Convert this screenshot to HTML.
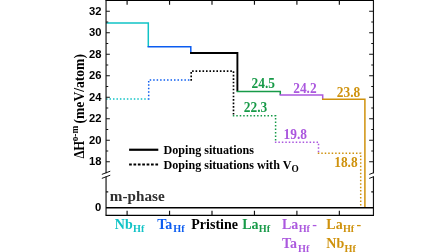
<!DOCTYPE html>
<html><head><meta charset="utf-8"><title>chart</title>
<style>html,body{margin:0;padding:0;background:#fff;overflow:hidden}</style></head>
<body>
<svg width="448" height="252" viewBox="0 0 448 252" style="display:block;filter:blur(0.3px)">
<rect width="448" height="252" fill="#fff"/>
<g fill="none" stroke-width="1.9" stroke-linejoin="miter" stroke-linecap="butt">
<path d="M106.05 22.97H148.30V46.76" stroke="#10c3c6" stroke-width="1.5"/>
<path d="M147.55 46.76H190.80V52.93" stroke="#0b5cf0" stroke-width="1.5"/>
<path d="M190.05 52.93H237.40V91.45" stroke="#000" stroke-width="1.9"/>
<path d="M236.65 91.45H280.30V94.96" stroke="#179a48" stroke-width="1.5"/>
<path d="M279.55 94.96H322.70V99.19" stroke="#ab58de" stroke-width="1.5"/>
<path d="M321.95 99.19H364.90V207.70" stroke="#cf920d" stroke-width="1.5"/>
</g>
<g fill="none" stroke-width="1.5" stroke-dasharray="1.5 1.97" stroke-linejoin="miter">
<path d="M106.05 99.04H148.0" stroke="#10c3c6"/>
<path d="M148.7 99.74V79.93H189.80" stroke="#0b5cf0"/>
<path d="M191.2 80.63V71.12H233.5V115.09" stroke="#000" stroke-width="1.65" stroke-dasharray="1.6 1.87"/>
<path d="M232.8 115.79H275.6V141.64" stroke="#179a48"/>
<path d="M274.90 142.34H318.5V152.49" stroke="#ab58de"/>
<path d="M317.8 153.19H360.7V207.70" stroke="#cf920d"/>
</g>
<g stroke="#111" stroke-width="1.15" fill="none" stroke-linecap="butt">
<path d="M105.5 0.35H374.0M105.5 215.3H374.0" stroke="#000" stroke-width="1.25"/>
<path d="M106.05 0.35V173.20M106.05 176.4V215.3M373.45 0.35V173.20M373.45 176.4V215.3"/>
<path d="M106.05 207.7H373.45" stroke="#000" stroke-width="1.45"/>
<path d="M101.85 174.40L110.25 171.20" stroke-width="1"/>
<path d="M369.25 174.40L373.95 172.61" stroke-width="1"/>
<path d="M101.85 178.40L110.25 175.20" stroke-width="1"/>
<path d="M369.25 178.40L373.95 176.61" stroke-width="1"/>
<path d="M127.10 0.35v4.4M127.10 215.3v-4.6"/>
<path d="M169.55 0.35v4.4M169.55 215.3v-4.6"/>
<path d="M212.00 0.35v4.4M212.00 215.3v-4.6"/>
<path d="M254.45 0.35v4.4M254.45 215.3v-4.6"/>
<path d="M296.90 0.35v4.4M296.90 215.3v-4.6"/>
<path d="M339.35 0.35v4.4M339.35 215.3v-4.6"/>
<path d="M106.05 161.75h3.8M373.45 161.75h-4.3"/>
<path d="M106.05 140.25h3.8M373.45 140.25h-4.3"/>
<path d="M106.05 118.75h3.8M373.45 118.75h-4.3"/>
<path d="M106.05 97.25h3.8M373.45 97.25h-4.3"/>
<path d="M106.05 75.75h3.8M373.45 75.75h-4.3"/>
<path d="M106.05 54.25h3.8M373.45 54.25h-4.3"/>
<path d="M106.05 32.75h3.8M373.45 32.75h-4.3"/>
<path d="M106.05 11.25h3.8M373.45 11.25h-4.3"/>
<path d="M106.05 151.00h2.2M373.45 151.00h-2.2"/>
<path d="M106.05 129.50h2.2M373.45 129.50h-2.2"/>
<path d="M106.05 108.00h2.2M373.45 108.00h-2.2"/>
<path d="M106.05 86.50h2.2M373.45 86.50h-2.2"/>
<path d="M106.05 65.00h2.2M373.45 65.00h-2.2"/>
<path d="M106.05 43.50h2.2M373.45 43.50h-2.2"/>
<path d="M106.05 22.00h2.2M373.45 22.00h-2.2"/>
<path d="M106.05 191.8h2.2M373.45 191.8h-2.2"/>
</g>
<g font-family="'Liberation Sans', Arial, sans-serif" font-weight="bold" font-size="10.4" text-anchor="end" fill="#000">
<text transform="translate(101.6 165.25) scale(1.08 1)">18</text>
<text transform="translate(101.6 143.75) scale(1.08 1)">20</text>
<text transform="translate(101.6 122.25) scale(1.08 1)">22</text>
<text transform="translate(101.6 100.75) scale(1.08 1)">24</text>
<text transform="translate(101.6 79.25) scale(1.08 1)">26</text>
<text transform="translate(101.6 57.75) scale(1.08 1)">28</text>
<text transform="translate(101.6 36.25) scale(1.08 1)">30</text>
<text transform="translate(101.6 14.75) scale(1.08 1)">32</text>
<text transform="translate(101.2 211.00) scale(1.08 1)">0</text>
</g>
<g transform="translate(83.6 0) rotate(-90) scale(1 1.13)" font-family="'Liberation Serif', 'Times New Roman', serif" font-weight="bold" fill="#000">
<text x="-158.6" y="0" font-size="12.7">ΔH</text>
<text transform="translate(-141.3 -5.1) scale(1 1.06)" font-size="9.3">o-m</text>
<text x="-123.5" y="0" font-size="13.6">(meV/atom)</text>
</g>
<path d="M129.1 149.75H158.3" stroke="#000" stroke-width="2.2"/>
<path d="M129.1 164.5H158.3" stroke="#000" stroke-width="2.2" stroke-dasharray="2.7 1.68"/>
<g font-family="'Liberation Serif', 'Times New Roman', serif" font-weight="bold" font-size="12.1" fill="#000">
<text x="163.6" y="153.65">Doping situations</text>
<text x="163.6" y="168.6">Doping situations with V<tspan dy="3.5" dx="0.2" font-size="9.3">O</tspan></text>
</g>
<text x="109.8" y="201.2" font-family="'Liberation Serif', 'Times New Roman', serif" font-weight="bold" font-size="15.2" fill="#303030">m-phase</text>
<g font-family="'Liberation Serif', 'Times New Roman', serif" font-weight="bold" font-size="13.4">
<text transform="translate(251.6 87.5) scale(1 1.05)" fill="#179a48">24.5</text>
<text transform="translate(293.2 92.5) scale(1 1.05)" fill="#ab58de">24.2</text>
<text transform="translate(336.8 97.3) scale(1 1.05)" fill="#cf920d">23.8</text>
<text transform="translate(243.8 112.4) scale(1 1.05)" fill="#179a48">22.3</text>
<text transform="translate(283.5 138.5) scale(1 1.05)" fill="#ab58de">19.8</text>
<text transform="translate(334.2 167.0) scale(1 1.05)" fill="#cf920d">18.8</text>
</g>
<g font-family="'Liberation Serif', 'Times New Roman', serif" font-weight="bold" font-size="14">
<text x="114.8" y="228.5" fill="#10c3c6">Nb<tspan dy="3.8" dx="0.3" font-size="10.2">Hf</tspan></text>
<text x="157.2" y="228.5" fill="#0b5cf0">Ta<tspan dy="3.8" dx="1.0" font-size="10.2">Hf</tspan></text>
<text x="191.3" y="228.5" fill="#000">Pristine</text>
<text x="242.2" y="228.5" fill="#179a48">La<tspan dy="3.8" dx="0.3" font-size="10.2">Hf</tspan></text>
<text x="282.0" y="228.5" fill="#ab58de">La<tspan dy="3.8" dx="0.3" font-size="10.2">Hf</tspan><tspan dy="-3.8" dx="-1.3" font-size="14"> -</tspan></text>
<text x="282.0" y="248" fill="#ab58de">Ta<tspan dy="3.8" dx="1.0" font-size="10.2">Hf</tspan></text>
<text x="326.3" y="228.5" fill="#cf920d">La<tspan dy="3.8" dx="0.3" font-size="10.2">Hf</tspan><tspan dy="-3.8" dx="-1.3" font-size="14"> -</tspan></text>
<text x="326.3" y="248" fill="#cf920d">Nb<tspan dy="3.8" dx="0.3" font-size="10.2">Hf</tspan></text>
</g>
</svg>
</body></html>
